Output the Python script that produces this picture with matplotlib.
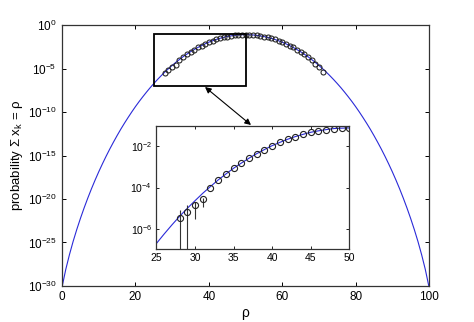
import numpy as np
import matplotlib
matplotlib.use("Agg")
import matplotlib.pyplot as plt
from matplotlib.patches import Rectangle

plt.rcParams['font.family'] = ['Liberation Sans', 'DejaVu Sans']
plt.rcParams['mathtext.fontset'] = 'custom'
plt.rcParams['mathtext.rm'] = 'Liberation Sans'
plt.rcParams['mathtext.it'] = 'Liberation Sans'

# exact curve: log10 probability at rho = 0..100
curve_rho = list(range(0, 101))
curve_log10 = [
    -30.10, -28.10, -26.41, -24.89, -23.51, -22.23, -21.03, -19.90, -18.83, -17.82,
    -16.86, -15.95, -15.08, -14.25, -13.46, -12.70, -11.97, -11.28, -10.62, -9.98,
    -9.37, -8.79, -8.24, -7.71, -7.20, -6.72, -6.26, -5.82, -5.40, -5.01,
    -4.64, -4.28, -3.95, -3.63, -3.34, -3.06, -2.81, -2.57, -2.35, -2.15,
    -1.96, -1.80, -1.65, -1.52, -1.41, -1.31, -1.24, -1.18, -1.13, -1.11,
    -1.10,
    -1.11, -1.13, -1.18, -1.24, -1.31, -1.41, -1.52, -1.65, -1.80, -1.96,
    -2.15, -2.35, -2.57, -2.81, -3.06, -3.34, -3.63, -3.95, -4.28, -4.64,
    -5.01, -5.40, -5.82, -6.26, -6.72, -7.20, -7.71, -8.24, -8.79, -9.37,
    -9.98, -10.62, -11.28, -11.97, -12.70, -13.46, -14.25, -15.08, -15.95, -16.86,
    -17.82, -18.83, -19.90, -21.03, -22.23, -23.51, -24.89, -26.41, -28.10, -30.10,
]

# sampled estimates (circles), log10 probability at rho = 28..71
pts_rho = list(range(28, 72))
pts_log10 = [
    -5.50, -5.18, -4.84, -4.58, -4.01, -3.63, -3.34, -3.06, -2.81, -2.57,
    -2.35, -2.15, -1.96, -1.80, -1.65, -1.52, -1.41, -1.31, -1.24, -1.18,
    -1.13, -1.11, -1.10, -1.11, -1.13, -1.18, -1.24, -1.31, -1.41, -1.52,
    -1.65, -1.80, -1.96, -2.15, -2.35, -2.57, -2.81, -3.06, -3.34, -3.70,
    -4.00, -4.50, -4.86, -5.44,
]

# error bars in the inset (log10 lower / upper ends)
err_rho = [28, 29, 30, 31]
err_lo_log10 = [-9.0, -9.0, -5.52, -4.93]
err_hi_log10 = [-5.07, -4.87, -4.71, -4.50]

xticks_main = [0, 20, 40, 60, 80, 100]
yticks_main_exp = [0, -5, -10, -15, -20, -25, -30]
xticks_inset = [25, 30, 35, 40, 45, 50]
yticks_inset_exp = [-6, -4, -2]

curve_y = 10.0 ** np.array(curve_log10)
pts_y = 10.0 ** np.array(pts_log10)

fig = plt.figure(figsize=(4.74, 3.22), dpi=100)
ax = fig.add_axes([0.131, 0.112, 0.774, 0.810])

blue = '#2a2ad8'
ax.plot(curve_rho, curve_y, color=blue, lw=0.8)
ax.plot(pts_rho, pts_y, 'o', mfc='none', mec='#202020', ms=3.6, mew=0.75)
ax.set_yscale('log')
ax.set_xlim(0, 100)
ax.set_ylim(1e-30, 1e0)
ax.set_xticks(xticks_main)
ax.set_yticks([10.0 ** e for e in yticks_main_exp])
ax.set_yticklabels([r'$10^{%d}$' % e for e in yticks_main_exp])
ax.yaxis.set_minor_locator(matplotlib.ticker.NullLocator())
ax.tick_params(direction='in', top=True, right=True, labelsize=8.5, length=3, width=0.7, pad=4)
for s in ax.spines.values():
    s.set_linewidth(0.9)
    s.set_color('#333333')
ax.set_xlabel('ρ', fontsize=10, labelpad=2)
ax.set_ylabel(r'probability Σ x$_\mathregular{k}$ = ρ', fontsize=9.5, labelpad=2)

ax.add_patch(Rectangle((25, 1e-7), 25, 1e-1 - 1e-7, fill=False, lw=1.3, ec='black', zorder=5))

# inset
axi = fig.add_axes([0.330, 0.226, 0.407, 0.383])
axi.plot(curve_rho, curve_y, color=blue, lw=0.8)
err_y = 10.0 ** np.array([pts_log10[pts_rho.index(r)] for r in err_rho])
lo = err_y - 10.0 ** np.array(err_lo_log10)
hi = 10.0 ** np.array(err_hi_log10) - err_y
axi.errorbar(err_rho, err_y, yerr=[lo, hi], fmt='none', ecolor='#333333', elinewidth=0.8, capsize=0)
axi.plot(pts_rho, pts_y, 'o', mfc='none', mec='#202020', ms=4.4, mew=0.8)
axi.set_yscale('log')
axi.set_xlim(25, 50)
axi.set_ylim(1e-7, 1e-1)
axi.set_xticks(xticks_inset)
axi.set_yticks([10.0 ** e for e in yticks_inset_exp])
axi.set_yticklabels([r'$10^{%d}$' % e for e in yticks_inset_exp])
axi.yaxis.set_minor_locator(matplotlib.ticker.NullLocator())
axi.tick_params(direction='in', top=True, right=True, labelsize=7.5, length=2.5, width=0.6, pad=3)
for s in axi.spines.values():
    s.set_linewidth(0.9)
    s.set_color('#333333')

fig.patches.append(matplotlib.patches.FancyArrowPatch(
    (205 / 474, 1 - 87 / 322), (251 / 474, 1 - 125 / 322),
    transform=fig.transFigure, arrowstyle='<|-|>', mutation_scale=9,
    color='black', lw=0.8, shrinkA=0, shrinkB=0))

fig.savefig('out.png', dpi=100)
